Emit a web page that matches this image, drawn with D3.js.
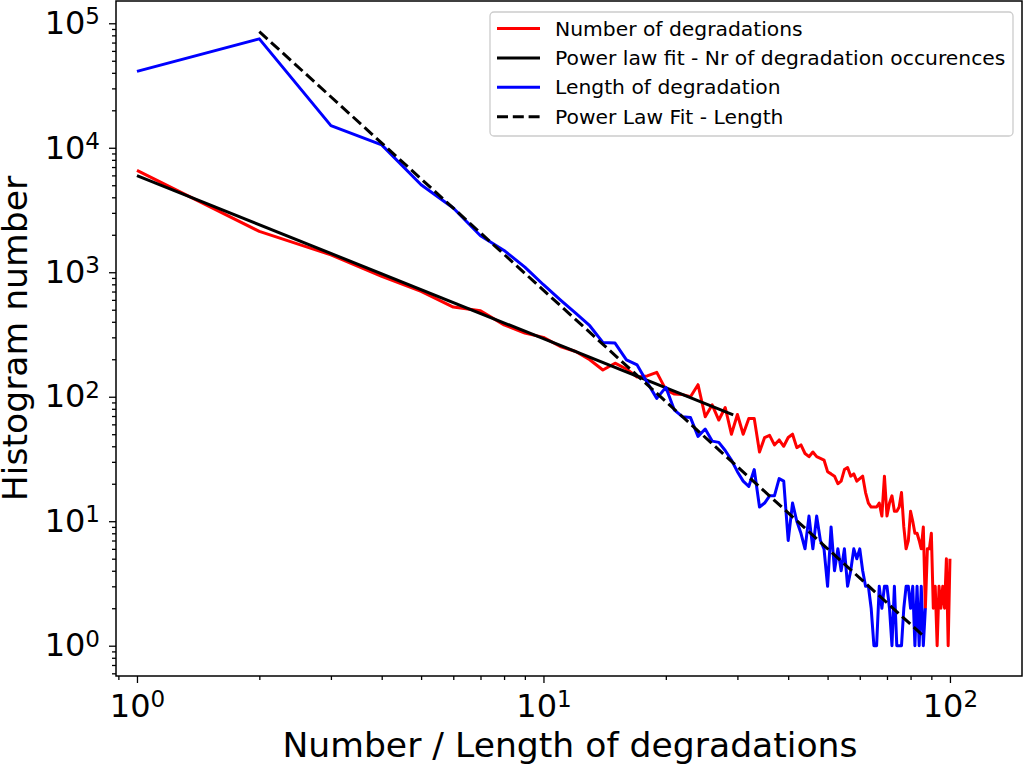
<!DOCTYPE html>
<html>
<head>
<meta charset="utf-8">
<title>Degradation histogram (log-log)</title>
<script src="https://d3js.org/d3.v7.min.js"></script>
<style>
  body { margin: 0; background: #fff; }
  text { font-family: "DejaVu Sans", sans-serif; fill: #000; }
</style>
</head>
<body>
<svg id="chart" width="1025" height="767"></svg>
<script>
// histogram of number of degradations per bin (x = 1..100)
const nrCounts = [6580, 2130, 1380, 925, 701, 525, 491, 378, 325, 300,
  253, 231, 198, 164, 186, 167, 144, 147, 157, 114,
  105, 104, 100, 125, 69, 86, 65, 82, 50, 72,
  50, 67, 67, 36, 47, 49, 41, 45, 40, 47,
  50, 39, 41, 35, 33, 36, 33, 32, 31, 25,
  24, 23, 20, 21, 26, 27, 23, 24, 21, 22,
  23, 17, 14, 13, 13, 13, 14, 11, 23, 11,
  14, 16, 12, 12, 13, 17, 9, 6, 7, 12,
  10, 8, 8, 7, 6, 9, 2, 6, 6, 8,
  2, 3, 1, 3, 2, 3, 2, 5, 1, 5];

// histogram of degradation lengths (x = 1..87)
const lenCounts = [41100, 75000, 15060, 10540, 5040, 3280, 1965, 1497, 1100, 794,
  601, 470, 372, 273, 270, 198, 180, 130, 97, 119,
  78, 69, 68, 48, 55, 44, 43, 37, 31, 25,
  21, 19, 26, 13, 14, 16, 16, 22, 21, 7,
  14, 10, 8, 6, 11, 6, 11, 7, 6, 3,
  9, 4, 6, 4, 6, 3, 4, 6, 5, 6,
  4, 3, 3, 2, 1, 1, 3, 2, 3, 3,
  2, 1, 3, 1, 1, 1, 2, 3, 3, 2,
  3, 1, 3, 1, 3, 1, 2];

// fitted power laws, end points
const nrFitX = [1, 29.3];
const nrFitY = [5970, 71.6];
const lenFitX = [2, 86];
const lenFitY = [85600, 1.2];

const xMajor = [1, 10, 100];
const yMajor = [1, 10, 100, 1000, 10000, 100000];

const legendLabels = ["Number of degradations", "Power law fit - Nr of degradation occurences",
  "Length of degradation", "Power Law Fit - Length"];
const legendColors = ["#ff0000", "#000000", "#0000ff", "#000000"];
const legendDash = [null, null, null, "11,4.8"];

const nrX = d3.range(1, nrCounts.length + 1);
const lenX = d3.range(1, lenCounts.length + 1);

const svg = d3.select("#chart");
const pLeft = 116, pRight = 1022, pTop = 1, pBottom = 676;

const x = d3.scaleLog().domain([0.888, 150.4]).range([pLeft, pRight]);
const y = d3.scaleLog().domain([0.571, 151000]).range([pBottom, pTop]);

// minor ticks 2..9 of each decade inside the domain
function minorTicks(scale) {
  const [a, b] = scale.domain();
  const out = [];
  for (let e = -1; e <= 6; e++) {
    for (let k = 2; k <= 9; k++) {
      const v = k * Math.pow(10, e);
      if (v >= a && v <= b) out.push(v);
    }
  }
  return out;
}

function powLabel(sel) {
  sel.each(function (d) {
    const t = d3.select(this).text(null);
    t.append("tspan").text("10");
    t.append("tspan").attr("dy", "-0.42em").attr("font-size", "0.72em")
      .text(Math.round(Math.log10(d)));
  });
}

svg.append("clipPath").attr("id", "clip")
  .append("rect").attr("x", pLeft).attr("y", pTop)
  .attr("width", pRight - pLeft).attr("height", pBottom - pTop);

const line = d3.line().x(d => x(d[0])).y(d => y(d[1]));
const lines = svg.append("g").attr("clip-path", "url(#clip)")
  .attr("fill", "none").attr("stroke-width", 3).attr("stroke-linejoin", "round");

lines.append("path").attr("d", line(d3.zip(nrX, nrCounts))).attr("stroke", "#ff0000");
lines.append("path").attr("d", line(d3.zip(nrFitX, nrFitY))).attr("stroke", "#000");
lines.append("path").attr("d", line(d3.zip(lenX, lenCounts))).attr("stroke", "#0000ff");
lines.append("path").attr("d", line(d3.zip(lenFitX, lenFitY))).attr("stroke", "#000")
  .attr("stroke-dasharray", "11,4.8");

// axes
const xAxis = svg.append("g").attr("transform", `translate(0,${pBottom})`)
  .call(d3.axisBottom(x).tickValues(xMajor).tickSize(7).tickPadding(11));
svg.append("g").attr("transform", `translate(0,${pBottom})`)
  .call(d3.axisBottom(x).tickValues(minorTicks(x)).tickSize(4).tickFormat(""));
const yAxis = svg.append("g").attr("transform", `translate(${pLeft},0)`)
  .call(d3.axisLeft(y).tickValues(yMajor).tickSize(7).tickPadding(9));
svg.append("g").attr("transform", `translate(${pLeft},0)`)
  .call(d3.axisLeft(y).tickValues(minorTicks(y)).tickSize(4).tickFormat(""));

svg.selectAll(".domain").remove();
svg.selectAll(".tick line").attr("stroke", "#000").attr("stroke-width", 1.3);
xAxis.selectAll("text").attr("font-size", 32).attr("font-family", "DejaVu Sans").call(powLabel);
yAxis.selectAll("text").attr("font-size", 32).attr("font-family", "DejaVu Sans").call(powLabel);

// frame
svg.append("rect").attr("x", pLeft).attr("y", pTop)
  .attr("width", pRight - pLeft).attr("height", pBottom - pTop)
  .attr("fill", "none").attr("stroke", "#000").attr("stroke-width", 1.5);

// axis titles
svg.append("text").attr("x", (pLeft + pRight) / 2 + 1).attr("y", 757)
  .attr("text-anchor", "middle").attr("font-size", 34.6)
  .text("Number / Length of degradations");
svg.append("text")
  .attr("transform", `translate(27,${(pTop + pBottom) / 2}) rotate(-90)`)
  .attr("text-anchor", "middle").attr("font-size", 34.6)
  .text("Histogram number");

// legend
const legend = svg.append("g");
legend.append("rect").attr("x", 490).attr("y", 12).attr("width", 523).attr("height", 124)
  .attr("rx", 4).attr("fill", "#fff").attr("fill-opacity", 0.8)
  .attr("stroke", "#cccccc").attr("stroke-width", 1.3);
legendLabels.forEach((lab, i) => {
  const cy = 28.5 + 29.4 * i;
  legend.append("line").attr("x1", 497).attr("x2", 540).attr("y1", cy).attr("y2", cy)
    .attr("stroke", legendColors[i]).attr("stroke-width", 3)
    .attr("stroke-dasharray", legendDash[i]);
  legend.append("text").attr("x", 555).attr("y", cy + 7).attr("font-size", 20.3).text(lab);
});
</script>
</body>
</html>
